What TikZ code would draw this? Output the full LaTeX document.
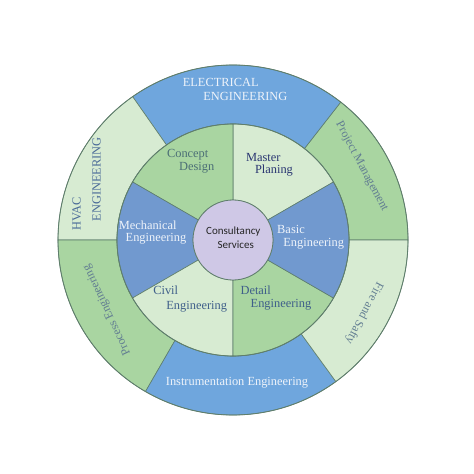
\documentclass[tikz,border=0pt]{standalone}
\usepackage{fontspec}
\setmainfont{Liberation Serif}
\newfontfamily\centerfont{Carlito}
\definecolor{blueout}{HTML}{6FA6DD}
\definecolor{bluein}{HTML}{7199CF}
\definecolor{midgreen}{HTML}{A9D5A1}
\definecolor{lightgreen}{HTML}{D7EBD2}
\definecolor{lavender}{HTML}{CFC8E6}
\definecolor{edgecol}{HTML}{5F7E6C}
\definecolor{txtwhite}{HTML}{EEF3FA}
\definecolor{txtteal}{HTML}{4C6F76}
\definecolor{txtnavy}{HTML}{2A3672}
\definecolor{txtslate}{HTML}{3F5F8A}
\definecolor{txthvac}{HTML}{4A6A98}
\definecolor{txtgray}{HTML}{627D92}
\newcommand\annsec[5]{%
  \filldraw[fill=#1,draw=edgecol,line width=0.6pt]
    (#2:#4) arc[start angle=#2,end angle=#3,radius=#4]
    -- (#3:#5) arc[start angle=#3,end angle=#2,radius=#5] -- cycle;}
\begin{document}
\begin{tikzpicture}[x=1pt,y=1pt,
  lbl/.style={inner sep=0pt,font=\fontsize{12.4}{13}\selectfont},
  rlbl/.style={inner sep=0pt,font=\fontsize{12}{13}\selectfont,text=txtgray}]
\useasboundingbox[fill=white] (-233,-234) rectangle (241,240);
% outer ring
\annsec{midgreen}{0}{52}{116}{175}
\annsec{blueout}{52}{125}{116}{175}
\annsec{lightgreen}{125}{180}{116}{175}
\annsec{midgreen}{180}{240}{116}{175}
\annsec{blueout}{240}{306}{116}{175}
\annsec{lightgreen}{306}{360}{116}{175}
% inner ring
\annsec{lightgreen}{30}{90}{40}{116}
\annsec{midgreen}{90}{150}{40}{116}
\annsec{bluein}{150}{210}{40}{116}
\annsec{lightgreen}{210}{270}{40}{116}
\annsec{midgreen}{270}{330}{40}{116}
\annsec{bluein}{330}{390}{40}{116}
\draw[edgecol,line width=0.8pt] (0,0) circle[radius=175];
\draw[edgecol,line width=0.8pt] (0,0) circle[radius=116];
\node[circle,fill=lavender,draw=edgecol,line width=0.8pt,minimum size=80pt,inner sep=0pt] (center) at (0,0) {};
\node[inner sep=0pt,font=\centerfont\fontsize{11}{12}\selectfont,text=black!85] (cons) at (0.3,8.3) {Consultancy};
\node[inner sep=0pt,font=\centerfont\fontsize{11}{12}\selectfont,text=black!85] (serv) at (2.7,-4.3) {Services};
% inner labels
\node[lbl,text=txtteal] (concept) at (-45.3,85.7) {Concept};
\node[lbl,text=txtteal] (design) at (-36.3,72.3) {Design};
\node[lbl,text=txtnavy] (master) at (30.3,82.3) {Master};
\node[lbl,text=txtnavy] (planing) at (41,69.3) {Planing};
\node[lbl,text=txtwhite] (mech) at (-85.3,15) {Mechanical};
\node[lbl,text=txtwhite] (mecheng) at (-77,1) {Engineering};
\node[lbl,text=txtwhite] (basic) at (58,10.7) {Basic};
\node[lbl,text=txtwhite] (basiceng) at (80.7,-3.3) {Engineering};
\node[lbl,text=txtslate] (civil) at (-67.3,-50.7) {Civil};
\node[lbl,text=txtslate] (civileng) at (-36.3,-66.7) {Engineering};
\node[lbl,text=txtslate] (detail) at (22.7,-50.7) {Detail};
\node[lbl,text=txtslate] (detaileng) at (48,-64.3) {Engineering};
% outer labels
\node[lbl,text=txtwhite] (elec) at (-12.3,157.3) {ELECTRICAL};
\node[lbl,text=txtwhite] (eleceng) at (12.3,144) {ENGINEERING};
\node[lbl,text=txtwhite] (instr) at (4,-142.3) {Instrumentation Engineering};
\node[lbl,text=txthvac,rotate=90] (hvac) at (-156.3,26) {HVAC};
\node[lbl,text=txthvac,rotate=90] (hvaceng) at (-136.3,60.7) {ENGINEERING};
\node[rlbl,rotate=-62] (pm) at (128.7,73.3) {Project Management};
\node[rlbl,rotate=242] (fire) at (131,-73.3) {Fire and Safty};
\node[rlbl,rotate=115] (process) at (-125.7,-70) {Process Engineering};
\end{tikzpicture}
\end{document}
